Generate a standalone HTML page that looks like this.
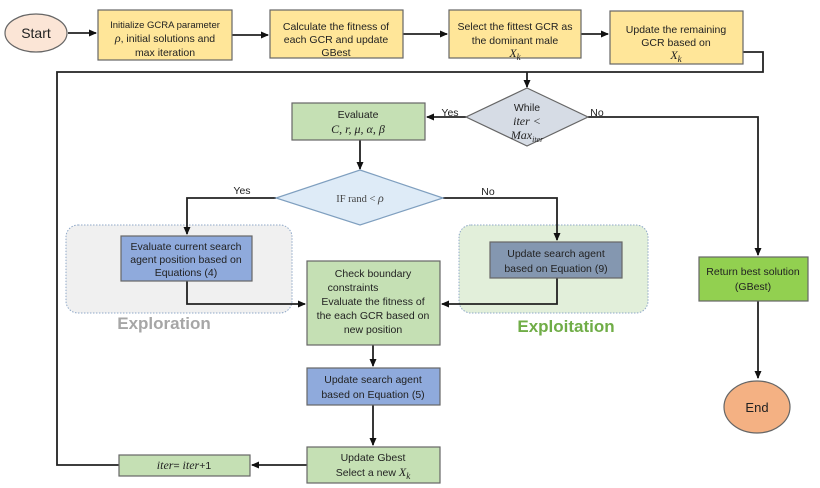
<!DOCTYPE html>
<html><head><meta charset="utf-8"><style>
html,body{margin:0;padding:0;background:#fff;}
svg{display:block;}
text{font-family:"Liberation Sans Narrow","Liberation Sans",sans-serif;font-size:10.5px;fill:#222;text-anchor:middle;}
.m{font-family:"Liberation Serif",serif;font-style:italic;font-size:12px;}
</style></head><body>
<svg width="820" height="488" viewBox="0 0 820 488" xmlns="http://www.w3.org/2000/svg">
<defs><marker id="a" markerWidth="8" markerHeight="8" refX="7" refY="4" orient="auto" markerUnits="userSpaceOnUse"><path d="M0,0.5 L8,4 L0,7.5 z" fill="#111"/></marker></defs>
<g fill="none" stroke="#8fa8c8" stroke-dasharray="1.5,1.5">
<rect x="66" y="225" width="226" height="88" rx="12" fill="#f0f0f0"/>
<rect x="459" y="225" width="189" height="88" rx="12" fill="#e2efda"/>
</g>
<text x="164" y="329" style="font-size:17px;font-weight:bold;fill:#a6a6a6">Exploration</text>
<text x="566" y="332" style="font-size:17px;font-weight:bold;fill:#70ad47">Exploitation</text>
<g stroke="#222" stroke-width="1.8" fill="none">
<line x1="68" y1="33" x2="96" y2="33" marker-end="url(#a)"/>
<line x1="232" y1="35" x2="268" y2="35" marker-end="url(#a)"/>
<line x1="403" y1="34" x2="447" y2="34" marker-end="url(#a)"/>
<line x1="581" y1="34" x2="608" y2="34" marker-end="url(#a)"/>
<polyline points="743,52 763,52 763,72 57,72 57,465 119,465"/>
<line x1="527" y1="72" x2="527" y2="87" marker-end="url(#a)"/>
<line x1="466" y1="117" x2="427" y2="117" marker-end="url(#a)"/>
<polyline points="588,117 758,117 758,255" marker-end="url(#a)"/>
<line x1="758" y1="301" x2="758" y2="378" marker-end="url(#a)"/>
<line x1="360" y1="140" x2="360" y2="169" marker-end="url(#a)"/>
<polyline points="276,198 187,198 187,234" marker-end="url(#a)"/>
<polyline points="443,198 557,198 557,240" marker-end="url(#a)"/>
<polyline points="187,281 187,304 305,304" marker-end="url(#a)"/>
<polyline points="557,278 557,304 442,304" marker-end="url(#a)"/>
<line x1="373" y1="345" x2="373" y2="366" marker-end="url(#a)"/>
<line x1="373" y1="405" x2="373" y2="445" marker-end="url(#a)"/>
<line x1="307" y1="465" x2="252" y2="465" marker-end="url(#a)"/>
</g>
<g stroke="#666" stroke-width="1.2">
<ellipse cx="36" cy="33" rx="31" ry="19" fill="#fbe5d6"/>
<rect x="98" y="10" width="134" height="50" fill="#ffe699"/>
<rect x="270" y="10" width="133" height="48" fill="#ffe699"/>
<rect x="449" y="10" width="132" height="48" fill="#ffe699"/>
<rect x="610" y="11" width="133" height="53" fill="#ffe699"/>
<polygon points="527,88 588,117 527,146 466,117" fill="#d6dce5"/>
<rect x="292" y="103" width="133" height="37" fill="#c5e0b4"/>
<polygon points="360,170 443,198 360,225 276,198" fill="#deebf7" stroke="#7f9fbf"/>
<rect x="121" y="236" width="131" height="45" fill="#8faadc"/>
<rect x="490" y="242" width="132" height="36" fill="#8497b0"/>
<rect x="307" y="261" width="133" height="84" fill="#c5e0b4"/>
<rect x="307" y="368" width="133" height="37" fill="#8faadc"/>
<rect x="307" y="447" width="133" height="36" fill="#c5e0b4"/>
<rect x="119" y="455" width="131" height="21" fill="#c5e0b4"/>
<rect x="699" y="257" width="109" height="44" fill="#92d050"/>
<ellipse cx="757" cy="407" rx="33" ry="26" fill="#f4b183"/>
</g>
<text x="36" y="38" style="font-size:14px">Start</text>
<text x="165" y="28" style="font-size:9.5px">Initialize GCRA parameter</text>
<text x="165" y="42"><tspan class="m">ρ</tspan>, initial solutions and</text>
<text x="165" y="56">max iteration</text>
<text x="336" y="30">Calculate the fitness of</text>
<text x="336" y="43">each GCR and update</text>
<text x="336" y="56">GBest</text>
<text x="515" y="30">Select the fittest GCR as</text>
<text x="515" y="44">the dominant male</text>
<text x="515" y="57" class="m">X<tspan style="font-size:9px" dy="3">k</tspan></text>
<text x="676" y="33">Update the remaining</text>
<text x="676" y="46">GCR based on</text>
<text x="676" y="59" class="m">X<tspan style="font-size:9px" dy="3">k</tspan></text>
<text x="527" y="111">While</text>
<text x="527" y="125" class="m">iter &lt;</text>
<text x="527" y="139" class="m">Max<tspan style="font-size:8px" dy="3">iter</tspan></text>
<text x="450" y="116">Yes</text>
<text x="597" y="116">No</text>
<text x="358" y="118">Evaluate</text>
<text x="358" y="133" class="m">C, r, μ, α, β</text>
<text x="360" y="202" style="font-family:'Liberation Serif',serif;fill:#444">IF rand &lt; <tspan class="m">ρ</tspan></text>
<text x="242" y="194">Yes</text>
<text x="488" y="195">No</text>
<text x="186" y="250">Evaluate current search</text>
<text x="186" y="263">agent position based on</text>
<text x="186" y="276">Equations (4)</text>
<text x="556" y="257">Update search agent</text>
<text x="556" y="272">based on Equation (9)</text>
<text x="373" y="277">Check boundary</text>
<text x="353" y="291">constraints</text>
<text x="373" y="305">Evaluate the fitness of</text>
<text x="373" y="319">the each GCR based on</text>
<text x="373" y="333">new position</text>
<text x="373" y="383">Update search agent</text>
<text x="373" y="398">based on Equation (5)</text>
<text x="373" y="461">Update Gbest</text>
<text x="373" y="476">Select a new <tspan class="m">X<tspan style="font-size:9px" dy="3">k</tspan></tspan></text>
<text x="184" y="469"><tspan class="m">iter</tspan>= <tspan class="m">iter</tspan>+1</text>
<text x="753" y="275">Return best solution</text>
<text x="753" y="290">(GBest)</text>
<text x="757" y="412" style="font-size:13px">End</text>
</svg>
</body></html>
